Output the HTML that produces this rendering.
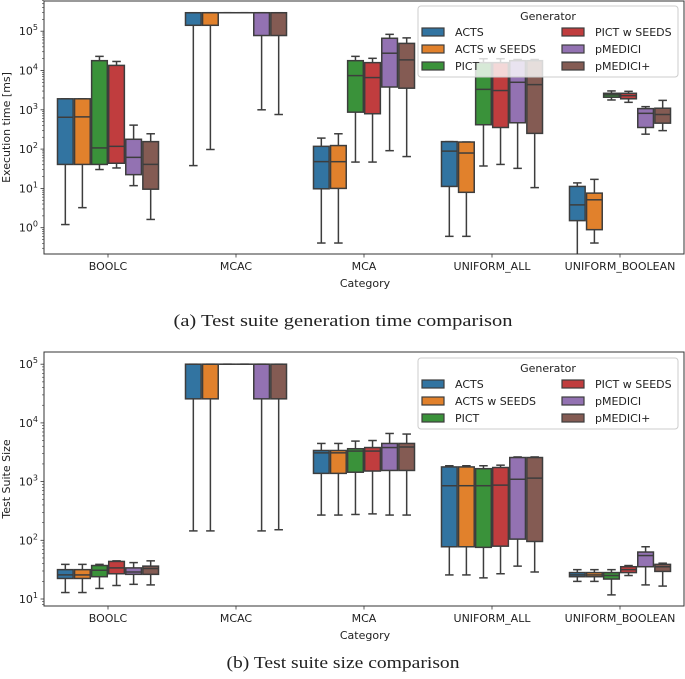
<!DOCTYPE html>
<html><head><meta charset="utf-8"><style>
html,body{margin:0;padding:0;background:#fff;}
svg{display:block;}
</style></head><body>
<svg id="chart" width="685" height="679" viewBox="0 0 685 679" xmlns="http://www.w3.org/2000/svg" font-family="DejaVu Sans, Liberation Sans, sans-serif"></svg>
<script>
const categories = ["BOOLC","MCAC","MCA","UNIFORM_ALL","UNIFORM_BOOLEAN"];
const generators = ["ACTS","ACTS w SEEDS","PICT","PICT w SEEDS","pMEDICI","pMEDICI+"];
const colors = ["#3274a1","#e1812c","#3a923a","#c03d3e","#9372b2","#845b53"];
// Chart A: execution time, log10 values [generator][category]
const timeLow  = [[0.08,1.58,-0.39,-0.22,-1.2],[0.51,1.99,-0.39,-0.22,-0.39],[1.48,5.47,1.67,1.57,3.25],[1.52,5.47,1.67,1.61,3.19],[1.07,3.0,1.96,1.51,2.38],[0.21,2.88,1.81,1.02,2.47]];
const timeQ1   = [[1.61,5.15,0.99,1.05,0.18],[1.61,5.15,1.0,0.9,-0.05],[1.61,5.47,2.94,2.62,3.32],[1.64,5.47,2.9,2.55,3.28],[1.35,4.89,3.58,2.67,2.55],[0.98,4.89,3.55,2.4,2.66]];
const timeMed  = [[2.81,5.47,1.68,1.95,0.58],[2.82,5.47,1.68,1.9,0.71],[2.03,5.47,3.87,3.52,3.38],[2.07,5.47,3.82,3.49,3.36],[1.79,5.47,4.44,3.7,2.91],[1.61,5.47,4.27,3.64,2.88]];
const timeQ3   = [[3.28,5.47,2.07,2.19,1.05],[3.28,5.47,2.09,2.18,0.88],[4.25,5.47,4.25,4.2,3.42],[4.13,5.47,4.2,4.2,3.42],[2.25,5.47,4.82,4.25,3.03],[2.19,5.47,4.69,4.25,3.04]];
const timeHigh = [[3.28,5.47,2.28,2.19,1.14],[3.28,5.47,2.39,2.18,1.23],[4.36,5.47,4.36,4.3,3.48],[4.23,5.47,4.31,4.3,3.47],[2.61,5.47,4.92,4.28,3.08],[2.39,5.47,4.83,4.28,3.24]];
// Chart B: test suite size, log10 values
const sizeLow  = [[1.11,2.16,2.43,1.41,1.30],[1.11,2.16,2.43,1.41,1.30],[1.18,5.0,2.44,1.36,1.07],[1.23,5.0,2.45,1.43,1.40],[1.25,2.16,2.43,1.56,1.24],[1.24,2.18,2.43,1.46,1.22]];
const sizeQ1   = [[1.35,4.41,3.14,1.89,1.38],[1.35,4.41,3.14,1.89,1.38],[1.38,5.0,3.16,1.88,1.34],[1.43,5.0,3.18,1.90,1.45],[1.42,4.41,3.19,2.02,1.55],[1.42,4.41,3.19,1.98,1.47]];
const sizeMed  = [[1.41,5.0,3.49,2.93,1.41],[1.41,5.0,3.49,2.93,1.41],[1.49,5.0,3.52,2.93,1.40],[1.53,5.0,3.52,2.94,1.50],[1.46,5.0,3.58,3.04,1.74],[1.52,5.0,3.59,3.06,1.55]];
const sizeQ3   = [[1.50,5.0,3.53,3.25,1.45],[1.50,5.0,3.53,3.25,1.45],[1.57,5.0,3.56,3.22,1.45],[1.64,5.0,3.58,3.24,1.55],[1.53,5.0,3.65,3.41,1.80],[1.56,5.0,3.65,3.41,1.59]];
const sizeHigh = [[1.59,5.0,3.65,3.27,1.50],[1.59,5.0,3.65,3.27,1.50],[1.59,5.0,3.69,3.27,1.50],[1.65,5.0,3.70,3.28,1.57],[1.62,5.0,3.82,3.42,1.89],[1.65,5.0,3.81,3.42,1.61]];
const tickExpA = [0,1,2,3,4,5];
const tickExpB = [1,2,3,4,5];

const NS="http://www.w3.org/2000/svg";
const svg=document.getElementById('chart');
function mk(tag,attrs,parent){const e=document.createElementNS(NS,tag);for(const k in attrs)e.setAttribute(k,attrs[k]);(parent||svg).appendChild(e);return e;}

function drawChart(cfg){
  const g=mk('g',{});
  
  
  const L=44,R=684,T=cfg.top,B=cfg.bottom;
  const yScale=v=>cfg.y0-(v-cfg.v0)*cfg.dec;
  const xScale=i=>108+i*128;
  const clipId='clip'+cfg.name;
  const cp=mk('clipPath',{id:clipId},g);mk('rect',{x:L,y:T,width:R-L,height:B-T},cp);
  for(let e=Math.floor(cfg.vmin);e<=Math.ceil(cfg.vmax);e++){
    for(let m=2;m<=9;m++){const v=e+Math.log10(m);if(v<cfg.vmin||v>cfg.vmax)continue;const y=yScale(v);
      const t=mk('line',{x1:L-2,x2:L,y1:y,y2:y,stroke:'#333','stroke-width':0.6},g);
      }
  }
  cfg.ticks.forEach(e=>{const y=yScale(e);
    const t=mk('line',{x1:L-3.5,x2:L,y1:y,y2:y,stroke:'#333','stroke-width':0.8},g);
    
    const tx=mk('text',{x:L-6,y:y+4,'text-anchor':'end','font-size':11,fill:'#222'},g);
    
    tx.textContent='10';const s=mk('tspan',{dy:-5,'font-size':8},tx);s.textContent=String(e);
  });
  categories.forEach((c,i)=>{const x=xScale(i);
    const t=mk('line',{x1:x,x2:x,y1:B,y2:B+3.5,stroke:'#333','stroke-width':0.8},g);
    
    const tx=mk('text',{x:x,y:B+16,'text-anchor':'middle','font-size':11,fill:'#222'},g);
    
    tx.textContent=c;
  });
  const bw=17.07;
  const bg=mk('g',{'clip-path':'url(#'+clipId+')'},g);
  generators.forEach((gn,gi)=>{
    categories.forEach((c,ci)=>{
      const cx=xScale(ci)+(gi-2.5)*bw;
      const q1=yScale(cfg.q1[gi][ci]),q3=yScale(cfg.q3[gi][ci]),md=yScale(cfg.med[gi][ci]),lo=yScale(cfg.low[gi][ci]),hi=yScale(cfg.high[gi][ci]);
      const bx=mk('g',{},bg);
      
      
      const st={stroke:'#3d3d3d','stroke-width':1.5};
      mk('line',Object.assign({x1:cx,x2:cx,y1:q1,y2:lo},st),bx);
      mk('line',Object.assign({x1:cx,x2:cx,y1:q3,y2:hi},st),bx);
      mk('line',Object.assign({x1:cx-bw*0.25,x2:cx+bw*0.25,y1:lo,y2:lo},st),bx);
      mk('line',Object.assign({x1:cx-bw*0.25,x2:cx+bw*0.25,y1:hi,y2:hi},st),bx);
      mk('rect',Object.assign({x:cx-bw/2+0.7,y:q3,width:bw-1.4,height:Math.max(q1-q3,0.01),fill:colors[gi]},st),bx);
      mk('line',Object.assign({x1:cx-bw/2+0.7,x2:cx+bw/2-0.7,y1:md,y2:md},st),bx);
    });
  });
  const fr=mk('rect',{x:L,y:T,width:R-L,height:B-T,fill:'none',stroke:'#333','stroke-width':1},g);
  
  const xl=mk('text',{x:365,y:B+33,'text-anchor':'middle','font-size':11,fill:'#222'},g);
  xl.textContent='Category';
  const ym=(T+B)/2;
  const yl=mk('text',{x:10,y:ym,'text-anchor':'middle','font-size':11,fill:'#222',transform:'rotate(-90 10 '+ym+')'},g);
  yl.textContent=cfg.ylabel;
  const lg=mk('g',{},g);
  
  const ly=cfg.legendTop;
  mk('rect',{x:418,y:ly,width:260,height:71,rx:3,fill:'#fff','fill-opacity':0.8,stroke:'#ccc','stroke-width':1},lg);
  const lt=mk('text',{x:548,y:ly+14,'text-anchor':'middle','font-size':11,fill:'#222'},lg);
  lt.textContent='Generator';
  generators.forEach((gn,gi)=>{
    const col=gi<3?0:1,row=gi%3;
    const px=col?562:422,py=ly+22+row*17;
    const en=mk('g',{},lg);
    
    mk('rect',{x:px,y:py,width:22,height:8,fill:colors[gi],stroke:'#3d3d3d','stroke-width':1.2},en);
    const t=mk('text',{x:px+33,y:py+8,'font-size':11,fill:'#222'},en);t.textContent=gn;
  });
  const cap=mk('text',{x:343,y:cfg.capY,'text-anchor':'middle','font-size':17,fill:'#222','font-family':'Liberation Serif, serif',textLength:cfg.capW,lengthAdjust:'spacingAndGlyphs'},g);
  cap.textContent=cfg.caption;
}
drawChart({name:'time-chart',top:1,bottom:254,y0:227.7,v0:0,dec:39.3,vmin:-0.67,vmax:5.78,ticks:tickExpA,
  low:timeLow,q1:timeQ1,med:timeMed,q3:timeQ3,high:timeHigh,ylabel:'Execution time [ms]',legendTop:6,capY:326,capW:339,
  caption:'(a) Test suite generation time comparison'});
drawChart({name:'size-chart',top:352,bottom:606,y0:599,v0:1,dec:58.7,vmin:0.88,vmax:5.2,ticks:tickExpB,
  low:sizeLow,q1:sizeQ1,med:sizeMed,q3:sizeQ3,high:sizeHigh,ylabel:'Test Suite Size',legendTop:358,capY:668,capW:233,
  caption:'(b) Test suite size comparison'});
</script>
</body></html>
